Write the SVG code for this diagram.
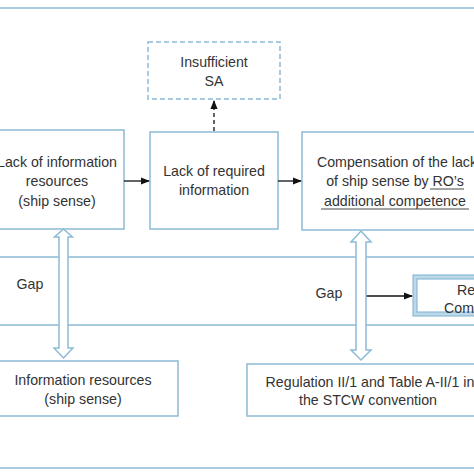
<svg xmlns="http://www.w3.org/2000/svg" width="474" height="474" viewBox="0 0 474 474">
<defs>
<style>
.box{fill:#fff;stroke:#8cbad6;stroke-width:1.5}
.band{fill:none;stroke:#8cbad6;stroke-width:1.5}
.t{font-family:"Liberation Sans",Arial,sans-serif;font-size:14.2px;fill:#333;text-anchor:middle}
.ts{font-family:"Liberation Sans",Arial,sans-serif;font-size:14.2px;fill:#333;text-anchor:start}
.con{stroke:#111;stroke-width:1.3;fill:none}
.hollow{fill:#fff;stroke:#8cbad6;stroke-width:1.5}
</style>
<marker id="ah" viewBox="0 0 10 10" refX="9" refY="5" markerWidth="7" markerHeight="7" orient="auto">
<path d="M0,1 L10,5 L0,9 Z" fill="#111"/>
</marker>
</defs>
<rect width="474" height="474" fill="#fff"/>
<g id="frame">
<line x1="0" y1="8" x2="474" y2="8" class="band"/>
<line x1="0" y1="468" x2="474" y2="468" class="band"/>
</g>
<g id="gap-band">
<line x1="0" y1="257" x2="474" y2="257" class="band"/>
<line x1="0" y1="325" x2="474" y2="325" class="band"/>
<text x="30" y="289" class="t">Gap</text>
<text x="329" y="298" class="t">Gap</text>
</g>
<g id="insufficient-sa">
<rect x="148" y="42" width="132" height="57" fill="#fff" stroke="#8cbad6" stroke-width="1.5" stroke-dasharray="5,3"/>
<text x="214" y="67" class="t">Insufficient</text>
<text x="214" y="86" class="t">SA</text>
</g>
<g id="lack-info-resources">
<rect x="-10" y="130" width="134" height="99" class="box"/>
<text x="57" y="167" class="t">Lack of information</text>
<text x="57" y="186" class="t">resources</text>
<text x="57" y="206" class="t">(ship sense)</text>
</g>
<g id="lack-required-info">
<rect x="150" y="132" width="128" height="97" class="box"/>
<text x="214" y="176" class="t">Lack of required</text>
<text x="214" y="195" class="t">information</text>
</g>
<g id="compensation">
<rect x="302" y="132" width="190" height="98" class="box"/>
<text x="397" y="167" class="t">Compensation  of the lack</text>
<text x="395" y="186" class="t">of ship sense by RO’s</text>
<text x="395" y="206" class="t">additional competence</text>
<line x1="430" y1="189" x2="464" y2="189" stroke="#333" stroke-width="0.9"/>
<line x1="321" y1="209" x2="469" y2="209" stroke="#333" stroke-width="0.9"/>
</g>
<g id="info-resources">
<rect x="-12" y="361" width="190" height="55" class="box"/>
<text x="83" y="385" class="t">Information resources</text>
<text x="83" y="404" class="t">(ship sense)</text>
</g>
<g id="regulation">
<rect x="247" y="364" width="240" height="52" class="box"/>
<text x="370" y="387" class="t">Regulation II/1 and Table A-II/1 in</text>
<text x="368" y="405" class="t">the STCW convention</text>
</g>
<g id="required-competence">
<rect x="415" y="277" width="70" height="37" fill="#fff" stroke="#bcd9ea" stroke-width="4"/>
<rect x="413" y="275" width="74" height="41" fill="none" stroke="#7fb0cf" stroke-width="1"/>
<rect x="417" y="279" width="66" height="33" fill="none" stroke="#7fb0cf" stroke-width="1"/>
<text x="457" y="295" class="ts">Re</text>
<text x="444" y="313" class="ts">Com</text>
</g>
<g id="connectors">
<line x1="124" y1="181" x2="149" y2="181" class="con" marker-end="url(#ah)"/>
<line x1="278" y1="181" x2="301" y2="181" class="con" marker-end="url(#ah)"/>
<line x1="214" y1="131" x2="214" y2="101" class="con" stroke-dasharray="4,3" marker-end="url(#ah)"/>
<line x1="366" y1="296" x2="412" y2="296" class="con" marker-end="url(#ah)"/>
<path d="M63.5,229 L72.5,237 L68,237 L68,348 L73,348 L63.5,358 L54,348 L59,348 L59,237 L54.5,237 Z" class="hollow"/>
<path d="M361,231 L371,242 L366,242 L366,350 L371,350 L361,360 L351,350 L356,350 L356,242 L351,242 Z" class="hollow"/>
</g>
</svg>
